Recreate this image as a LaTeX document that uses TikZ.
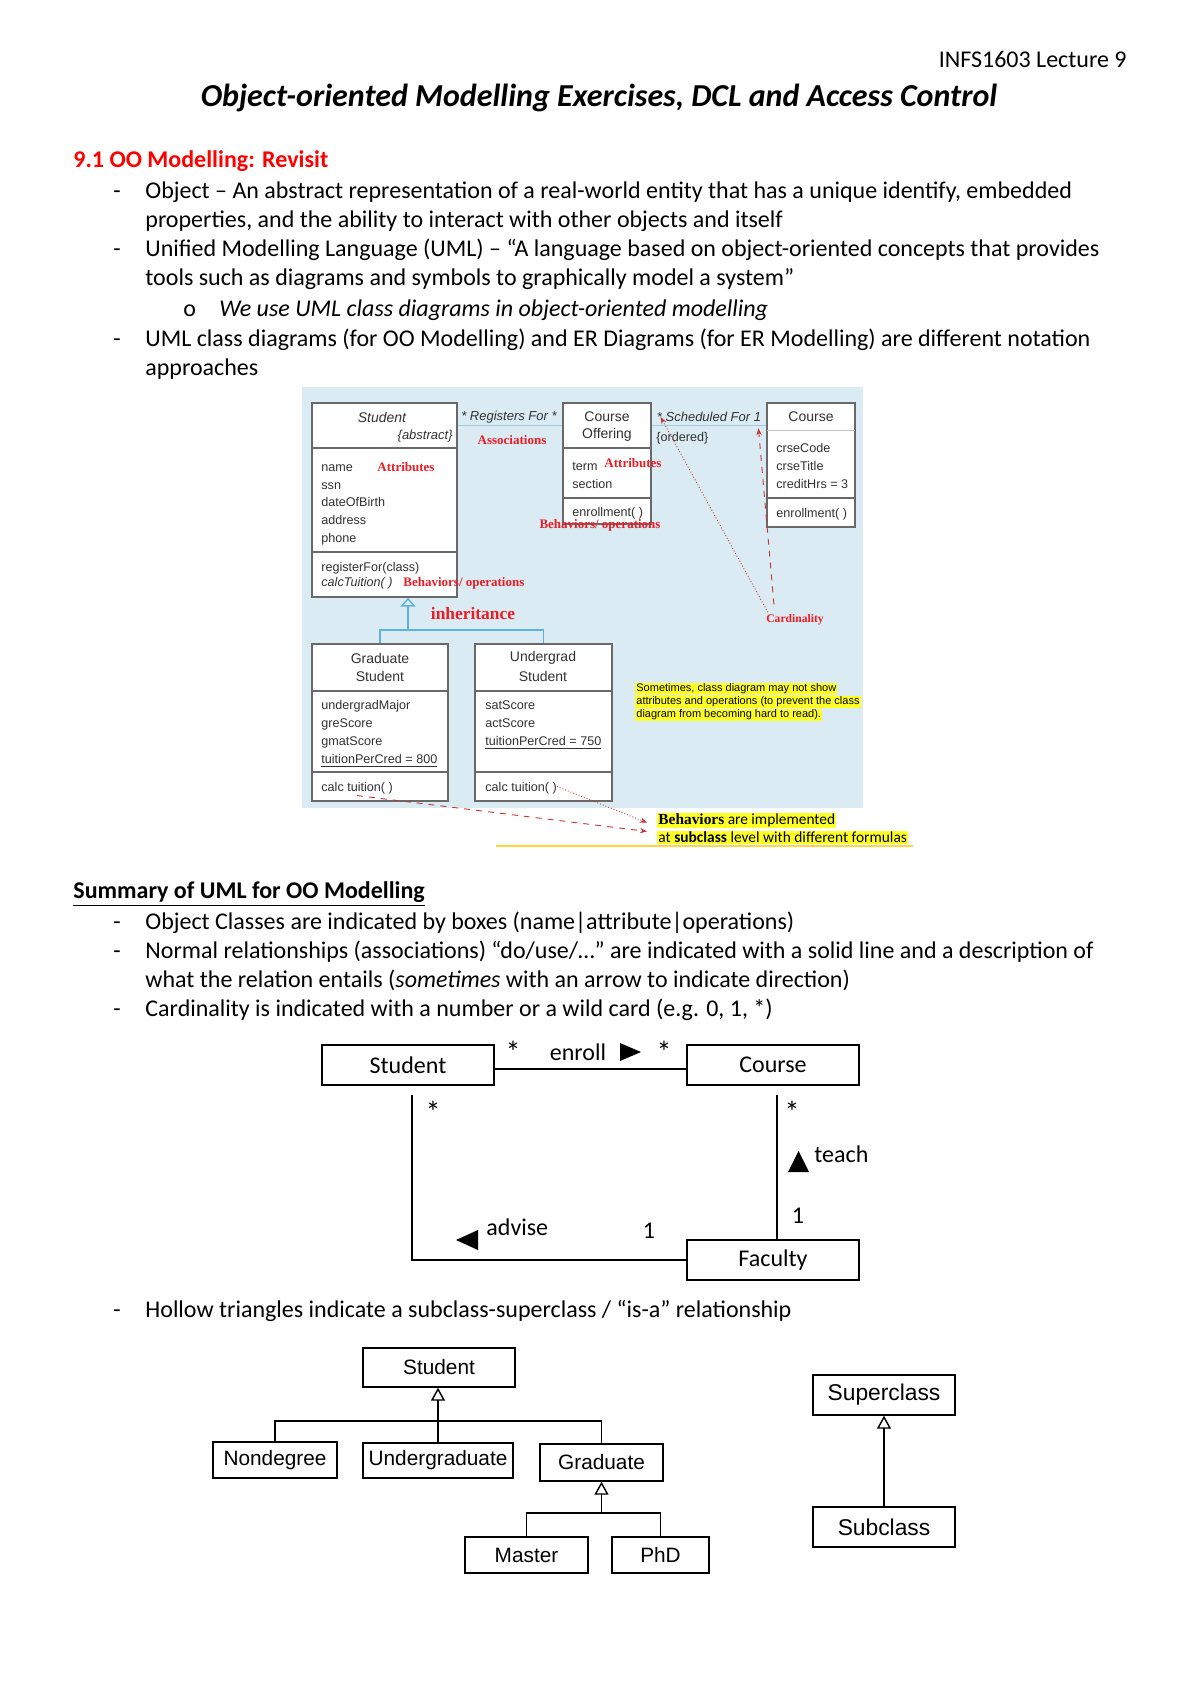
\documentclass[tikz,border=0pt]{standalone}
\usepackage{fontspec}
\setmainfont{Carlito}
\newfontfamily\arialf{Liberation Sans}
\newfontfamily\serf{Liberation Serif}
\usetikzlibrary{fit,arrows.meta,calc}
\definecolor{umlblue}{RGB}{218,235,243}
\definecolor{redlab}{RGB}{236,28,36}
\definecolor{boxgray}{RGB}{105,105,105}
\definecolor{dgray}{RGB}{50,50,50}
\definecolor{assocblue}{RGB}{160,205,225}
\definecolor{inhblue}{RGB}{95,178,218}
\definecolor{arrred}{RGB}{200,50,50}
\definecolor{hlyellow}{RGB}{255,255,40}
\definecolor{ylline}{RGB}{255,215,60}
\begin{document}
\begin{tikzpicture}[x=0.5pt,y=-0.5pt,
  body/.style={anchor=mid west, inner sep=0, font=\fontsize{12}{14}\selectfont},
  dtext/.style={inner sep=0, font=\arialf\fontsize{6.3}{7.5}\selectfont, text=dgray},
  dname/.style={inner sep=0, font=\arialf\fontsize{7}{8}\selectfont, text=dgray},
  dattr/.style={dtext, anchor=mid west},
  rlab/.style={inner sep=0, font=\serf\bfseries\fontsize{6.5}{7.5}\selectfont, text=redlab},
  ubox/.style={draw=boxgray, line width=0.6pt, fill=white, inner sep=0},
  boxline/.style={draw=boxgray, line width=0.6pt},
  assoc/.style={draw=assocblue, line width=0.5pt},
  inh/.style={draw=inhblue, line width=0.7pt},
  redarr/.style={draw=arrred, line width=0.45pt, -{Stealth[length=3.5pt,width=2.6pt]}},
  hl/.style={fill=hlyellow, inner sep=0.5pt, anchor=mid west},
  mbox/.style={draw, line width=1.1pt, minimum width=86pt, minimum height=20pt, inner sep=0, font=\fontsize{12}{14}\selectfont},
  mlab/.style={inner sep=0, font=\fontsize{12}{14}\selectfont},
  mstar/.style={inner sep=0, font=\fontsize{15}{17}\selectfont},
  bbox/.style={draw, line width=0.7pt, inner sep=0, font=\arialf\fontsize{10.4}{12}\selectfont},
  hollow/.style={line width=0.7pt, -{Triangle[open, width=7pt, length=6.5pt]}}
]
\useasboundingbox (0,0) rectangle (1200,1698);

% ---------- header ----------
\node[body, anchor=mid east] (hdr) at (1127,63) {INFS1603 Lecture 9};
\node[inner sep=0, font=\fontsize{16}{19}\selectfont\bfseries\itshape] (ttl) at (599,98) {Object-oriented Modelling Exercises, DCL and Access Control};
\node[body, text=red, font=\fontsize{12}{14}\selectfont\bfseries] (sec) at (73,163) {9.1 OO Modelling: Revisit};

% ---------- bullets ----------
\node[body] (d1) at (113,194) {-};
\node[body] (l1) at (145,194) {Object – An abstract representation of a real-world entity that has a unique identify, embedded};
\node[body] (l2) at (145,223) {properties, and the ability to interact with other objects and itself};
\node[body] (d2) at (113,252) {-};
\node[body] (l3) at (145,252) {Unified Modelling Language (UML) – “A language based on object-oriented concepts that provides};
\node[body] (l4) at (145,281) {tools such as diagrams and symbols to graphically model a system”};
\node[body] (o1) at (183,312) {o};
\node[body, font=\fontsize{12}{14}\selectfont\itshape] (l5) at (219,312) {We use UML class diagrams in object-oriented modelling};
\node[body] (d3) at (113,342) {-};
\node[body] (l6) at (145,342) {UML class diagrams (for OO Modelling) and ER Diagrams (for ER Modelling) are different notation};
\node[body] (l7) at (145,371) {approaches};

% ---------- top UML diagram ----------
\fill[umlblue] (302,387) rectangle (863,808);

\node[ubox, fit={(312,403)(457,597)}] (stu) {};
\draw[boxline] (312,448) -- (457,448);
\draw[boxline] (312,552) -- (457,552);
\node[ubox, fit={(563,403)(651,524)}] (cof) {};
\draw[boxline] (563,448) -- (651,448);
\draw[boxline] (563,498) -- (651,498);
\node[ubox, fit={(767,403)(855,527)}] (crs) {};
\draw[draw=boxgray!40, line width=0.5pt] (767,430) -- (855,430);
\draw[boxline] (767,498) -- (855,498);
\node[ubox, fit={(312,644)(448,801)}] (gst) {};
\draw[boxline] (312,691) -- (448,691);
\draw[boxline] (312,772) -- (448,772);
\node[ubox, fit={(475,644)(612,801)}] (ust) {};
\draw[boxline] (475,691) -- (612,691);
\draw[boxline] (475,772) -- (612,772);

% associations
\draw[assoc] ([yshift=-11.5pt]stu.north east) -- ([yshift=-11.5pt]cof.north west);
\draw[assoc] ([yshift=-11.5pt]cof.north east) -- ([yshift=-11.5pt]crs.north west);

% Student
\node[dname, font=\arialf\itshape\fontsize{7}{8}\selectfont] (stuN) at (382,417) {Student};
\node[dtext, font=\arialf\itshape\fontsize{6.5}{8}\selectfont, anchor=mid east] (stuA) at (453,435) {\{abstract\}};
\node[dattr] (sa1) at (321,467) {name};
\node[dattr] (sa2) at (321,485) {ssn};
\node[dattr] (sa3) at (321,502) {dateOfBirth};
\node[dattr] (sa4) at (321,520) {address};
\node[dattr] (sa5) at (321,538) {phone};
\node[dattr] (so1) at (321,567) {registerFor(class)};
\node[dattr, font=\arialf\itshape\fontsize{6.3}{7.5}\selectfont] (so2) at (321,582) {calcTuition( )};

% Course Offering
\node[dname] (cofN1) at (607,417) {Course};
\node[dname] (cofN2) at (607,435) {Offering};
\node[dattr] (ca1) at (572,466) {term};
\node[dattr] (ca2) at (572,484) {section};
\node[dattr] (co1) at (572,512) {enrollment( )};

% Course
\node[dname] (crsN) at (811,417) {Course};
\node[dattr] (ra1) at (776,448) {crseCode};
\node[dattr] (ra2) at (776,466) {crseTitle};
\node[dattr] (ra3) at (776,484) {creditHrs = 3};
\node[dattr] (ro1) at (776,513) {enrollment( )};

% association labels
\node[dtext, font=\arialf\itshape\fontsize{6.5}{8}\selectfont] (reg) at (509,417) {* Registers For *};
\node[dtext, font=\arialf\itshape\fontsize{6.5}{8}\selectfont] (sched) at (709,417) {* Scheduled For 1};
\node[dattr, font=\arialf\fontsize{6.3}{7.5}\selectfont] (ord) at (656,437) {\{ordered\}};

% Graduate Student
\node[dname] (gsN1) at (380,658) {Graduate};
\node[dname] (gsN2) at (380,676) {Student};
\node[dattr] (ga1) at (321,705) {undergradMajor};
\node[dattr] (ga2) at (321,723) {greScore};
\node[dattr] (ga3) at (321,741) {gmatScore};
\node[dattr] (ga4) at (321,759) {\underline{tuitionPerCred = 800}};
\node[dattr] (gct) at (321,787) {calc tuition( )};

% Undergrad Student
\node[dname] (usN1) at (543,658) {Undergrad};
\node[dname] (usN2) at (543,676) {Student};
\node[dattr] (ua1) at (485,705) {satScore};
\node[dattr] (ua2) at (485,723) {actScore};
\node[dattr] (ua3) at (485,741) {\underline{tuitionPerCred = 750}};
\node[dattr] (uct) at (485,787) {calc tuition( )};

% inheritance
\coordinate (inhj) at (408,630);
\draw[inh] (gst.north) |- (inhj) -| (ust.north);
\draw[inh, -{Triangle[open, width=7.5pt, length=4.5pt]}] (inhj) -- (inhj |- stu.south);

% red labels
\node[rlab] (attr1) at (406,467) {Attributes};
\node[rlab] (attr2) at (633,463) {Attributes};
\node[rlab] (assocl) at (512,440) {Associations};
\node[rlab, anchor=mid west] (beho1) at (403,582) {Behaviors/ operations};
\node[rlab] (beho2) at (600,525) {Behaviors/ operations};
\node[rlab, font=\serf\bfseries\fontsize{8.7}{10}\selectfont] (inhl) at (473,614) {inheritance};
\node[rlab, font=\serf\bfseries\fontsize{5.8}{7}\selectfont] (card) at (795,620) {Cardinality};

% cardinality arrows
\draw[redarr, densely dotted] ($(card.north west)+(2,-2)$) -- ([xshift=2pt]sched.west);
\draw[redarr, dashed] ($(card.north west)+(8,-10)$) -- ($(sched.south east)+(-3,6)$);

% yellow note
\node[hl, font=\arialf\fontsize{5.5}{6.5}\selectfont] (n1) at (635,687) {Sometimes, class diagram may not show};
\node[hl, font=\arialf\fontsize{5.5}{6.5}\selectfont] (n2) at (635,700) {attributes and operations (to prevent the class};
\node[hl, font=\arialf\fontsize{5.5}{6.5}\selectfont] (n3) at (635,713) {diagram from becoming hard to read).};

% behaviours note
\node[hl, font=\fontsize{7.7}{9}\selectfont] (beh1) at (657,820) {{\serf\bfseries Behaviors} are implemented};
\node[hl, font=\fontsize{7.7}{9}\selectfont] (beh2) at (657,838) {at \textbf{subclass} level with different formulas};
\coordinate (yl1) at (496,846);
\coordinate (yl2) at (913,846);
\draw[ylline, line width=1pt] (yl1) -- (yl2);
\draw[redarr, densely dotted] ($(uct.west)+(72,-2)$) -- ([xshift=-5pt,yshift=-1pt]beh1.west);
\draw[redarr, dashed] ($(gct.west)+(36,7)$) -- ([xshift=-5pt,yshift=3pt]beh2.west);

% ---------- summary ----------
\node[body, font=\fontsize{12}{14}\selectfont\bfseries] (sum) at (73,894) {\underline{Summary of UML for OO Modelling}};
\node[body] (e1) at (113,925) {-};
\node[body] (s1) at (145,925) {Object Classes are indicated by boxes (name|attribute|operations)};
\node[body] (e2) at (113,954) {-};
\node[body] (s2) at (145,954) {Normal relationships (associations) “do/use/…” are indicated with a solid line and a description of};
\node[body] (s3) at (145,983) {what the relation entails (\textit{sometimes} with an arrow to indicate direction)};
\node[body] (e3) at (113,1012) {-};
\node[body] (s4) at (145,1012) {Cardinality is indicated with a number or a wild card (e.g. 0, 1, *)};

% ---------- middle diagram ----------
\node[mbox] (mst) at (408,1065) {Student};
\node[mbox] (mco) at (773,1065) {Course};
\node[mbox] (mfa) at (773,1260) {Faculty};
\draw[line width=1.1pt] ([yshift=-2pt]mst.east) -- ([yshift=-2pt]mco.west);
\draw[line width=1.1pt] ($(mst.south)+(4,9)$) |- (mfa.west);
\draw[line width=0.8pt] ($(mco.south)+(4,9)$) -- ($(mfa.north)+(4,0)$);
\node[mstar] (m1) at (513,1052) {*};
\node[mlab] (m2) at (578,1052) {enroll};
\fill (620,1043) -- (641,1052) -- (620,1061) -- cycle;
\node[mstar] (m3) at (664,1052) {*};
\node[mstar] (m4) at (433,1112) {*};
\node[mstar] (m5) at (792,1112) {*};
\fill (788,1172) -- (798.5,1151) -- (809,1172) -- cycle;
\node[mlab, anchor=mid west] (m6) at (814,1158) {teach};
\node[mlab] (m7) at (798,1216) {1};
\node[mlab, anchor=mid west] (m8) at (486,1231) {advise};
\fill (478,1230) -- (456,1240) -- (478,1250) -- cycle;
\node[mlab] (m9) at (649,1231) {1};

\node[body] (e4) at (113,1313) {-};
\node[body] (s5) at (145,1313) {Hollow triangles indicate a subclass-superclass / “is-a” relationship};

% ---------- bottom diagrams ----------
\node[bbox, minimum width=76pt, minimum height=19.5pt] (bst) at (439,1367.5) {Student};
\node[bbox, minimum width=62pt, minimum height=18pt] (bnd) at (275,1460) {Nondegree};
\node[bbox, minimum width=75pt, minimum height=17.5pt] (bug) at (438,1460.5) {Undergraduate};
\node[bbox, minimum width=61.5pt, minimum height=18.5pt] (bgr) at (601.5,1462.5) {Graduate};
\node[bbox, minimum width=61.5pt, minimum height=18pt] (bma) at (526.5,1555) {Master};
\node[bbox, minimum width=48.5pt, minimum height=18pt] (bph) at (660.5,1555) {PhD};
\node[bbox, minimum width=71pt, minimum height=20pt, font=\arialf\fontsize{11.4}{13}\selectfont] (bsup) at (884,1395) {Superclass};
\node[bbox, minimum width=71pt, minimum height=20pt, font=\arialf\fontsize{11.4}{13}\selectfont] (bsub) at (884,1527) {Subclass};

\coordinate (bj1) at (438,1421);
\draw[line width=0.7pt] (bnd.north) |- (bj1) -| (bgr.north);
\draw[hollow] (bug.north) -- (bst.south -| bug.north);
\coordinate (bj2) at (601.5,1513);
\draw[line width=0.7pt] (bma.north) |- (bj2) -| (bph.north);
\draw[hollow] (bj2) -- (bgr.south);
\draw[hollow] (bsub.north) -- (bsup.south);
\end{tikzpicture}
\end{document}
